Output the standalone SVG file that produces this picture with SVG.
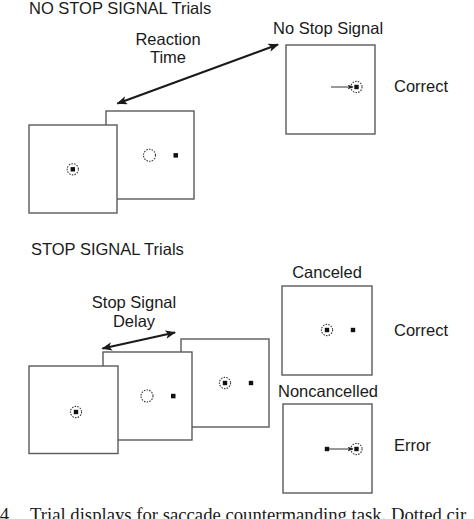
<svg xmlns="http://www.w3.org/2000/svg" width="474" height="519" viewBox="0 0 474 519">
<defs>
<style>
.lbl{font-family:"Liberation Sans",Arial,sans-serif;font-size:16.5px;fill:#1a1a1a}
.cap{font-family:"Liberation Serif","Times New Roman",serif;font-size:18.7px;fill:#1a1a1a}
.box{fill:#fff;stroke:#5a5a5a;stroke-width:1.4}
.dot{fill:none;stroke:#333;stroke-width:1.1;stroke-dasharray:1.5 1.2}
.sq{fill:#111}
.big{stroke:#1a1a1a;stroke-width:2.2;fill:none}
.small{stroke:#333;stroke-width:1;fill:none}
</style>
<marker id="ah" viewBox="0 0 10 8" refX="9" refY="4" markerWidth="11" markerHeight="8.5" markerUnits="userSpaceOnUse" orient="auto-start-reverse">
<path d="M0,0 L10,4 L0,8 L2.5,4 Z" fill="#1a1a1a"/>
</marker>
<marker id="sh" viewBox="0 0 10 8" refX="9" refY="4" markerWidth="6" markerHeight="5" markerUnits="userSpaceOnUse" orient="auto">
<path d="M0,0 L10,4 L0,8 L2.5,4 Z" fill="#222"/>
</marker>
</defs>
<rect width="474" height="519" fill="#fff"/>

<g id="titles">
<text class="lbl" x="29" y="13.5">NO STOP SIGNAL Trials</text>
<text class="lbl" x="31" y="255">STOP SIGNAL Trials</text>
</g>

<g id="rt-label">
<text class="lbl" x="168" y="44.5" text-anchor="middle">Reaction</text>
<text class="lbl" x="168" y="63" text-anchor="middle">Time</text>
</g>

<g id="ssd-label">
<text class="lbl" x="134" y="308" text-anchor="middle">Stop Signal</text>
<text class="lbl" x="134" y="326.5" text-anchor="middle">Delay</text>
</g>

<g id="nostop-box2">
<rect class="box" x="106" y="111" width="88" height="88"/>
<circle class="dot" cx="149.5" cy="155.3" r="6"/>
<rect class="sq" x="173.5" y="153.1" width="4.5" height="4.5"/>
</g>
<g id="nostop-box1">
<rect class="box" x="29" y="125" width="88" height="88"/>
<circle class="dot" cx="72.8" cy="169.3" r="5.6"/>
<rect class="sq" x="70.6" y="167.1" width="4.4" height="4.4"/>
</g>

<g id="nostop-result">
<text class="lbl" x="273" y="33.5">No Stop Signal</text>
<rect class="box" x="286" y="45" width="89" height="89"/>
<circle class="dot" cx="356.5" cy="87" r="5.6"/>
<rect class="sq" x="354.3" y="84.8" width="4.4" height="4.4"/>
<text class="lbl" x="394" y="91.5">Correct</text>
</g>

<g id="stop-boxC">
<rect class="box" x="181" y="339" width="88" height="88"/>
<circle class="dot" cx="225" cy="383" r="5.6"/>
<rect class="sq" x="222.8" y="380.8" width="4.4" height="4.4"/>
<rect class="sq" x="248.8" y="380.8" width="4.4" height="4.4"/>
</g>
<g id="stop-boxB">
<rect class="box" x="103" y="352" width="89" height="88"/>
<circle class="dot" cx="147" cy="396" r="6"/>
<rect class="sq" x="171" y="393.8" width="4.5" height="4.5"/>
</g>
<g id="stop-boxA">
<rect class="box" x="29" y="366" width="89" height="87.5"/>
<circle class="dot" cx="76" cy="412" r="5.6"/>
<rect class="sq" x="73.8" y="409.8" width="4.4" height="4.4"/>
</g>

<g id="canceled">
<text class="lbl" x="327" y="278" text-anchor="middle">Canceled</text>
<rect class="box" x="282" y="286" width="90" height="89"/>
<circle class="dot" cx="327" cy="330" r="5.6"/>
<rect class="sq" x="324.8" y="327.8" width="4.4" height="4.4"/>
<rect class="sq" x="350.8" y="327.8" width="4.4" height="4.4"/>
<text class="lbl" x="394" y="335.5">Correct</text>
</g>

<g id="noncancelled">
<text class="lbl" x="328" y="397" text-anchor="middle">Noncancelled</text>
<rect class="box" x="283" y="404" width="89" height="89"/>
<rect class="sq" x="324.8" y="446.8" width="4.4" height="4.4"/>
<circle class="dot" cx="356.5" cy="449" r="5.6"/>
<rect class="sq" x="354.3" y="446.8" width="4.4" height="4.4"/>
<text class="lbl" x="394" y="450.5">Error</text>
</g>

<g id="connectors">
<line class="big" x1="117.5" y1="103.5" x2="278" y2="44.5" marker-start="url(#ah)" marker-end="url(#ah)"/>
<line class="big" x1="102.5" y1="348.5" x2="175" y2="332.5" marker-start="url(#ah)" marker-end="url(#ah)"/>
<line class="small" x1="331" y1="87" x2="353" y2="87" marker-end="url(#sh)"/>
<line class="small" x1="329" y1="449" x2="353" y2="449" marker-end="url(#sh)"/>
</g>

<g id="caption">
<text class="cap" x="9" y="521" text-anchor="end">4</text>
<text class="cap" x="30" y="521">Trial displays for saccade countermanding task. Dotted cir</text>
</g>
</svg>
